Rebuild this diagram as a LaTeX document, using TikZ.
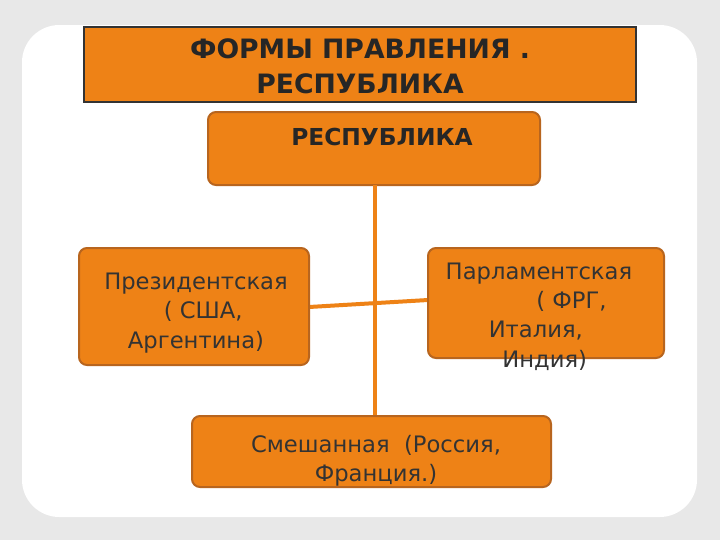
\documentclass[tikz,border=0pt]{standalone}
\usepackage{fontspec}
\setmainfont{DejaVu Sans}
\definecolor{org}{HTML}{EE8216}
\definecolor{orgd}{HTML}{B8651E}
\begin{document}
\begin{tikzpicture}[x=0.75pt,y=-0.75pt,
 box/.style={draw=orgd,line width=1.5pt,fill=org,rounded corners=6pt},
 txt/.style={font=\fontsize{17}{22}\selectfont,text=black!80,align=left},
 ln/.style={draw=org,line width=3pt}]
\useasboundingbox (0,0) rectangle (720,540);
\fill[gray!18] (0,0) rectangle (720,540);
\fill[white,rounded corners=28pt] (22,25) rectangle (697,517);
\draw[black!80,line width=1pt,fill=org] (84,27) rectangle (636,102);
\node[font=\bfseries\fontsize{20}{26}\selectfont,align=center,text=black!85] (t) at (360,66) {ФОРМЫ ПРАВЛЕНИЯ .\\РЕСПУБЛИКА};
\draw[box] (208,112) rectangle (540,185);
\node[font=\bfseries\fontsize{17.5}{20}\selectfont,text=black!85] (r) at (382,137) {РЕСПУБЛИКА};
\coordinate (rb) at (375,185);
\coordinate (mt) at (375,416);
\coordinate (pl) at (309,307);
\coordinate (pr) at (428,300);
\draw[ln] (rb) -- (mt);
\draw[ln] (pl) -- (pr);
\draw[box] (79,248) rectangle (309,365);
\node[txt,align=center] (p) at (196,313) {Президентская\\\ \ ( США,\\Аргентина)};
\draw[box] (428,248) rectangle (664,358);
\node[txt,anchor=north west] (q) at (441,258) {Парламентская\\\hspace{4.0em}( ФРГ,\\\hspace{1.9em}Италия,\\\hspace{2.5em}Индия)};
\draw[box] (192,416) rectangle (551,487);
\node[txt,align=center] (m) at (376,461) {Смешанная \ (Россия,\\Франция.)};
\end{tikzpicture}
\end{document}
